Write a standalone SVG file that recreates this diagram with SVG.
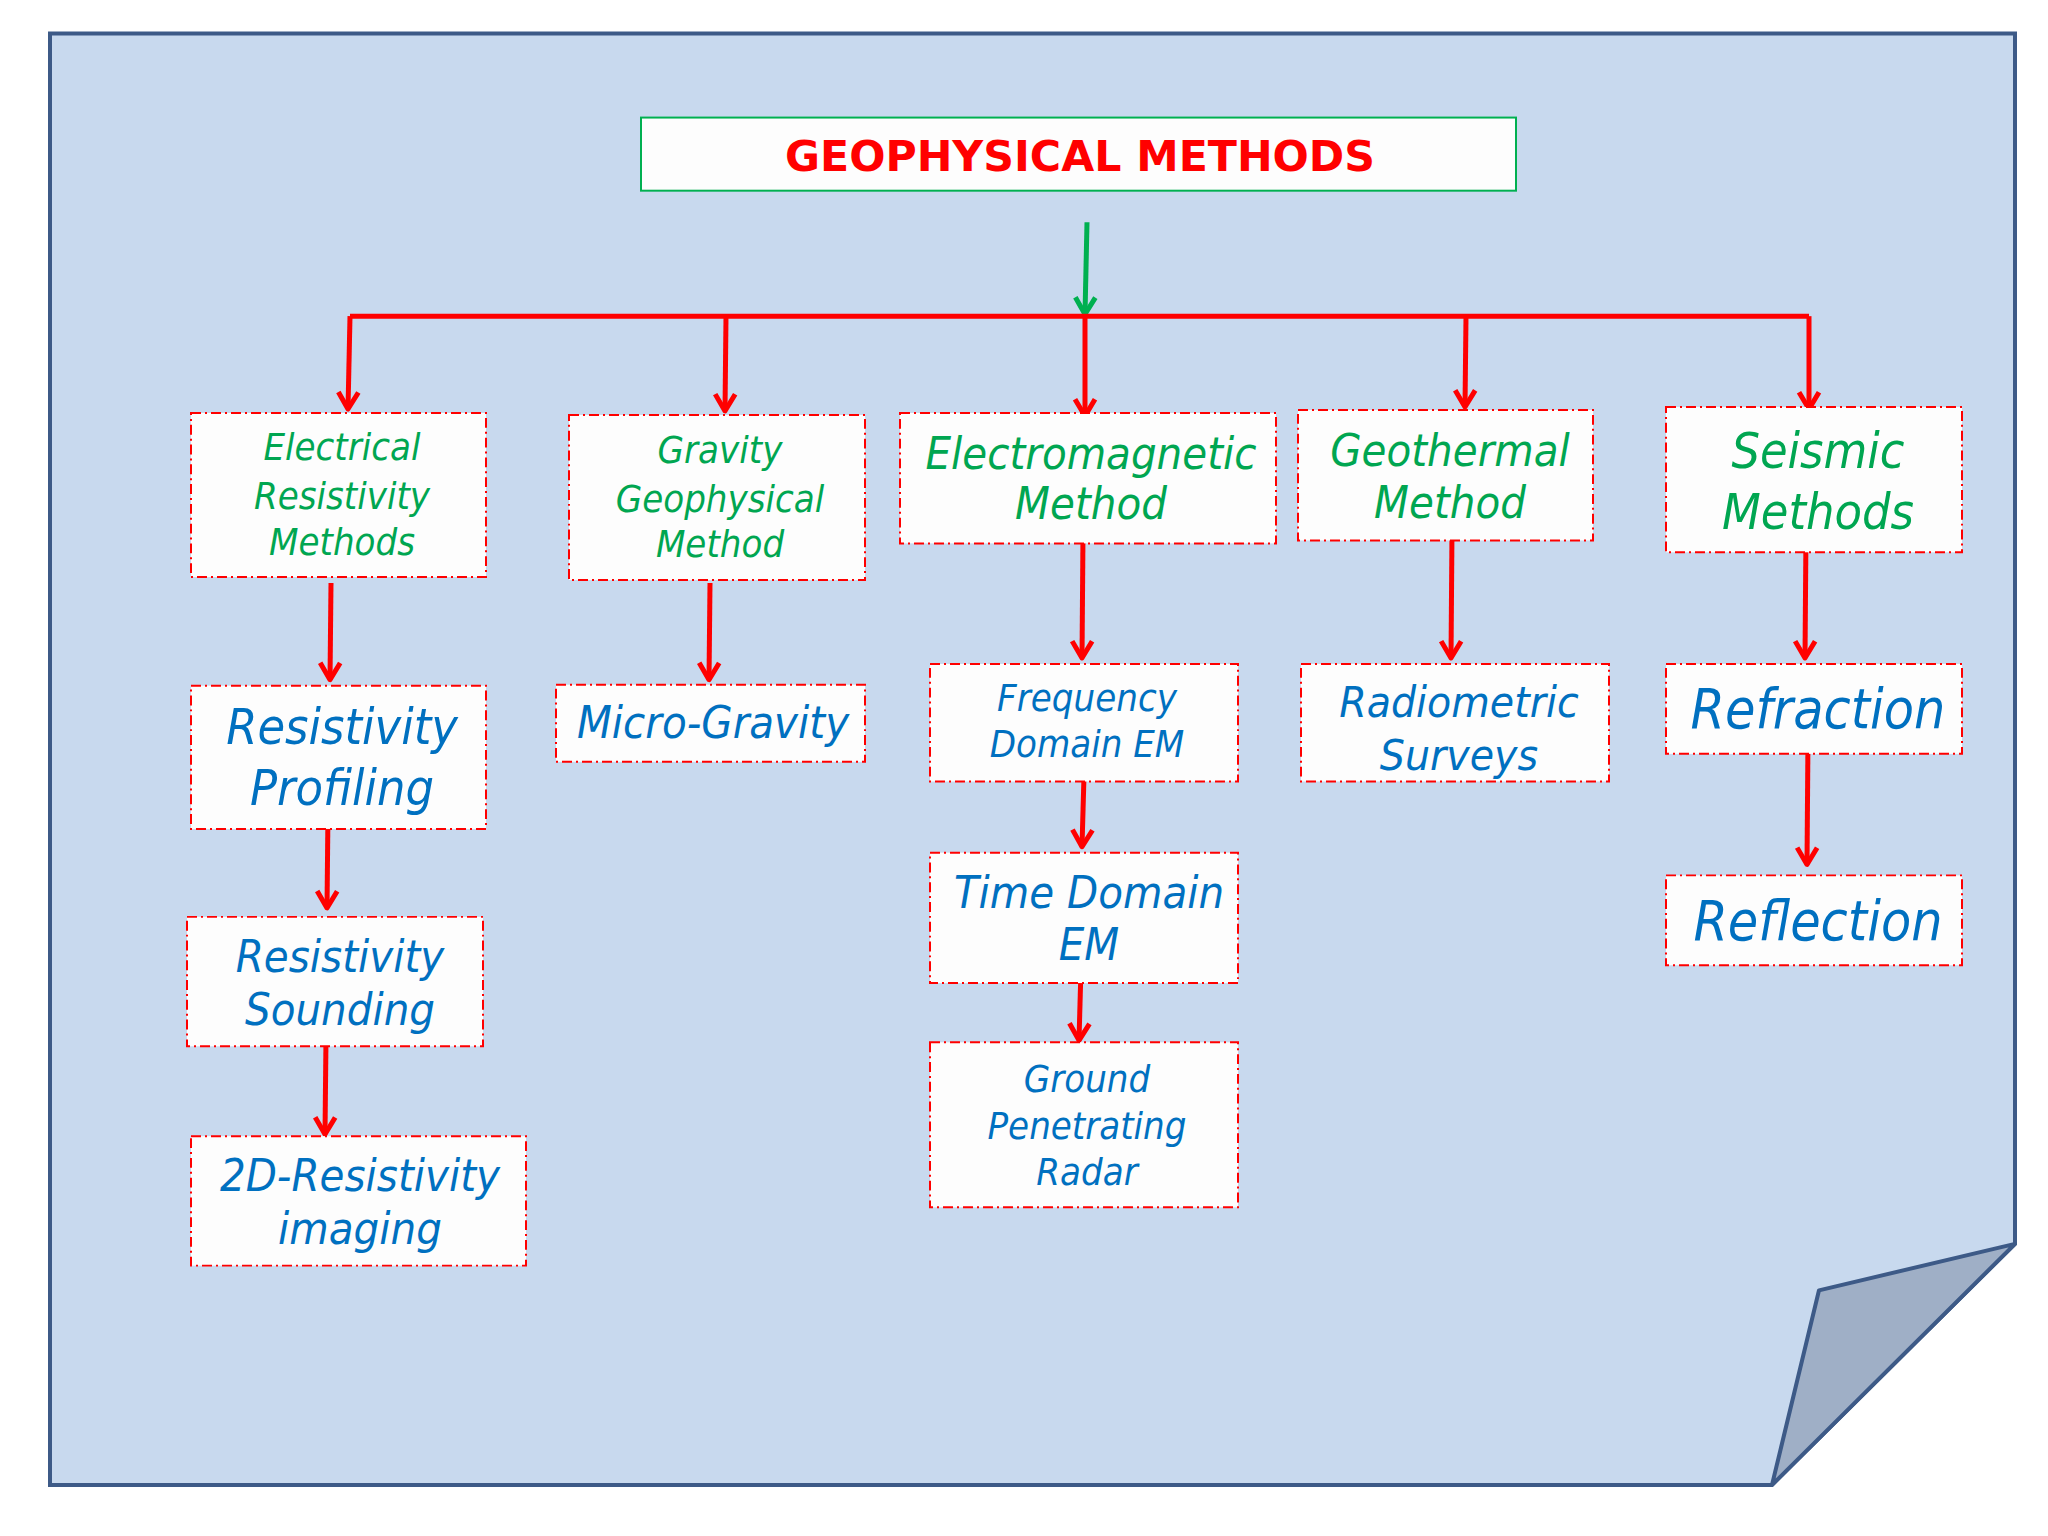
<svg xmlns="http://www.w3.org/2000/svg" width="2048" height="1536" viewBox="0 0 2048 1536">
<defs>
<style>
.box{fill:#fdfdfd;stroke:#ff0000;stroke-width:2;stroke-dasharray:10 4 2 4}
.g{fill:#00a651;font-family:"DejaVu Sans Condensed","DejaVu Sans",sans-serif;font-style:italic;text-anchor:middle;dominant-baseline:central}
.b{fill:#0070c0;font-family:"DejaVu Sans Condensed","DejaVu Sans",sans-serif;font-style:italic;text-anchor:middle;dominant-baseline:central}
.c{stroke:#ff0000;stroke-width:5;fill:none}
.a{stroke:#ff0000;stroke-width:5;fill:none;marker-end:url(#ar)}
</style>
<marker id="ar" viewBox="0 0 30 30" refX="27" refY="15" markerWidth="30" markerHeight="30" orient="auto" markerUnits="userSpaceOnUse">
<path d="M10,5 L27,15 L10,25" fill="none" stroke="#ff0000" stroke-width="5" stroke-linejoin="round"/>
</marker>
<marker id="ag" viewBox="0 0 30 30" refX="27" refY="15" markerWidth="30" markerHeight="30" orient="auto" markerUnits="userSpaceOnUse">
<path d="M10,5 L27,15 L10,25" fill="none" stroke="#00b050" stroke-width="5" stroke-linejoin="round"/>
</marker>
</defs>
<rect width="2048" height="1536" fill="#ffffff"/>
<g transform="scale(1,0.988)">
<g id="page">
<path d="M50,34 L2015,34 L2015,1259 L1772,1503 L50,1503 Z" fill="#c8d9ee" stroke="#3d5a87" stroke-width="4"/>
<path d="M2015,1259 L1819,1306 L1772,1503 Z" fill="#9fafc6" stroke="#3d5a87" stroke-width="4" stroke-linejoin="round"/>
</g>
<g id="title">
<rect x="641" y="119" width="875" height="74" fill="#fdfdfd" stroke="#00b050" stroke-width="2"/>
<text x="1080" y="157" fill="#ff0000" font-family="'DejaVu Sans',sans-serif" font-weight="bold" font-size="44" text-anchor="middle" dominant-baseline="central" textLength="590" lengthAdjust="spacingAndGlyphs">GEOPHYSICAL METHODS</text>
</g>
<g id="connectors">
<line x1="1087" y1="225" x2="1085" y2="318" stroke="#00b050" stroke-width="5" marker-end="url(#ag)"/>
<polyline class="c" points="350,320 1809,320"/>
<line class="a" x1="350" y1="320" x2="348" y2="414"/>
<line class="a" x1="726" y1="320" x2="725" y2="416"/>
<line class="a" x1="1085" y1="320" x2="1085" y2="421"/>
<line class="a" x1="1466" y1="320" x2="1465" y2="412"/>
<line class="a" x1="1809" y1="320" x2="1809" y2="414"/>
<line class="a" x1="331" y1="590" x2="330" y2="688"/>
<line class="a" x1="328" y1="820" x2="327" y2="919"/>
<line class="a" x1="326" y1="1050" x2="325" y2="1148"/>
<line class="a" x1="710" y1="590" x2="709" y2="688"/>
<line class="a" x1="1083" y1="540" x2="1082" y2="666"/>
<line class="a" x1="1084" y1="785" x2="1082" y2="857"/>
<line class="a" x1="1081" y1="980" x2="1079" y2="1053"/>
<line class="a" x1="1452" y1="537" x2="1451" y2="666"/>
<line class="a" x1="1806" y1="537" x2="1805" y2="666"/>
<line class="a" x1="1808" y1="746" x2="1807" y2="875"/>
</g>
<g id="n-electrical"><rect class="box" x="191" y="418" width="295" height="166"/>
<text class="g" font-size="38" x="342" y="453">Electrical</text><text class="g" font-size="38" x="342" y="502">Resistivity</text><text class="g" font-size="38" x="342" y="549">Methods</text></g>
<g id="n-gravity"><rect class="box" x="569" y="420" width="296" height="167"/>
<text class="g" font-size="38" x="720" y="456">Gravity</text><text class="g" font-size="38" x="720" y="505">Geophysical</text><text class="g" font-size="38" x="720" y="551">Method</text></g>
<g id="n-em"><rect class="box" x="900" y="418" width="376" height="132"/>
<text class="g" font-size="45" x="1091" y="459">Electromagnetic</text><text class="g" font-size="45" x="1091" y="510">Method</text></g>
<g id="n-geothermal"><rect class="box" x="1298" y="415" width="295" height="132"/>
<text class="g" font-size="45" x="1450" y="456">Geothermal</text><text class="g" font-size="45" x="1450" y="509">Method</text></g>
<g id="n-seismic"><rect class="box" x="1666" y="412" width="296" height="147"/>
<text class="g" font-size="50" x="1818" y="457">Seismic</text><text class="g" font-size="50" x="1818" y="518">Methods</text></g>
<g id="n-profiling"><rect class="box" x="191" y="694" width="295" height="145"/>
<text class="b" font-size="50" x="342" y="736">Resistivity</text><text class="b" font-size="50" x="342" y="798">Profiling</text></g>
<g id="n-micro"><rect class="box" x="556" y="693" width="309" height="78"/>
<text class="b" font-size="45" x="713" y="731">Micro-Gravity</text></g>
<g id="n-freq"><rect class="box" x="930" y="672" width="308" height="119"/>
<text class="b" font-size="38" x="1087" y="707">Frequency</text><text class="b" font-size="38" x="1087" y="753">Domain EM</text></g>
<g id="n-radio"><rect class="box" x="1301" y="672" width="308" height="119"/>
<text class="b" font-size="44" x="1459" y="710">Radiometric</text><text class="b" font-size="44" x="1459" y="764">Surveys</text></g>
<g id="n-refraction"><rect class="box" x="1666" y="672" width="296" height="91"/>
<text class="b" font-size="55" x="1818" y="718">Refraction</text></g>
<g id="n-time"><rect class="box" x="930" y="863" width="308" height="132"/>
<text class="b" font-size="45" x="1089" y="903">Time Domain</text><text class="b" font-size="45" x="1089" y="956">EM</text></g>
<g id="n-sounding"><rect class="box" x="187" y="928" width="296" height="131"/>
<text class="b" font-size="45" x="340" y="968">Resistivity</text><text class="b" font-size="45" x="340" y="1022">Sounding</text></g>
<g id="n-reflection"><rect class="box" x="1666" y="886" width="296" height="91"/>
<text class="b" font-size="55" x="1818" y="932">Reflection</text></g>
<g id="n-gpr"><rect class="box" x="930" y="1055" width="308" height="167"/>
<text class="b" font-size="38" x="1087" y="1092">Ground</text><text class="b" font-size="38" x="1087" y="1140">Penetrating</text><text class="b" font-size="38" x="1087" y="1186">Radar</text></g>
<g id="n-2d"><rect class="box" x="191" y="1150" width="335" height="131"/>
<text class="b" font-size="45" x="360" y="1190">2D-Resistivity</text><text class="b" font-size="45" x="360" y="1244">imaging</text></g>
</g>
</svg>
